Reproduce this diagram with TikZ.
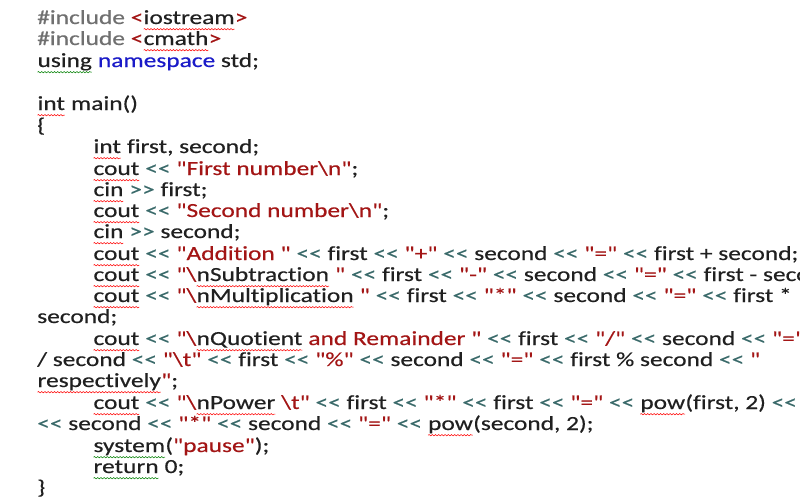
\documentclass[tikz,border=0pt]{standalone}
\usepackage{fontspec}
\newfontfamily\codefont{Carlito}[Ligatures=NoCommon,FakeStretch=1.27,FakeBold=0.4]
\usetikzlibrary{decorations.pathmorphing}
\definecolor{kwc}{HTML}{1A1AC8}
\definecolor{stc}{HTML}{A31515}
\definecolor{ppc}{HTML}{707070}
\definecolor{opc}{HTML}{3A6A6A}
\definecolor{txc}{HTML}{202020}
\newcommand\kw[1]{\textcolor{kwc}{#1}}
\newcommand\st[1]{\textcolor{stc}{#1}}
\newcommand\op[1]{\textcolor{opc}{#1}}
\newcommand\pp[1]{\textcolor{ppc}{#1}}
\newcommand\wv[2]{\tikz[baseline=(w.base)]{\node[inner sep=0pt,outer sep=0pt](w){\strut #2};\draw[#1,line width=0.4pt,decorate,decoration={snake,amplitude=0.5pt,segment length=2.4pt}]([yshift=1.2pt]w.south west)--([yshift=1.2pt]w.south east);}}
\newcommand\sr[1]{\wv{red}{#1}}
\newcommand\sg[1]{\wv{green!50!black}{#1}}
\newcommand\bs{\textbackslash}
\begin{document}
\begin{tikzpicture}[x=0.75pt,y=-0.75pt,every node/.style={anchor=base west,inner sep=0pt,font=\codefont\fontsize{15}{17}\selectfont,text=txc}]
\useasboundingbox (0,0) rectangle (800,500);
\fill[white] (0,0) rectangle (800,500);
\node (l1) at (37,24) {\pp{\#include} \st{<\sr{iostream}>}};
\node (l2) at (37,45) {\pp{\#include} \st{<\sr{cmath}>}};
\node (l3) at (37,67) {\kw{\sg{using}} \kw{namespace} std;};
\node (l4) at (37,110) {\kw{\sr{int}} main()};
\node (l5) at (37,132) {\{};
\node (l6) at (93,153) {\kw{\sr{int}} first, second;};
\node (l7) at (93,175) {\sr{cout} \op{<<} \st{"First number\bs n"};};
\node (l8) at (93,196) {\sr{cin} \op{>>} first;};
\node (l9) at (93,217) {\sr{cout} \op{<<} \st{"Second number\bs n"};};
\node (l10) at (93,238) {\sr{cin} \op{>>} second;};
\node (l11) at (93,260) {\sr{cout} \op{<<} \st{"Addition "} \op{<<} first \op{<<} \st{"+"} \op{<<} second \op{<<} \st{"="} \op{<<} first + second;};
\node (l12) at (93,281) {\sr{cout} \op{<<} \st{"\bs\sr{nSubtraction} "} \op{<<} first \op{<<} \st{"-"} \op{<<} second \op{<<} \st{"="} \op{<<} first - second;};
\node (l13) at (93,302) {\sr{cout} \op{<<} \st{"\bs\sr{nMultiplication} "} \op{<<} first \op{<<} \st{"*"} \op{<<} second \op{<<} \st{"="} \op{<<} first *};
\node (l14) at (37,323) {second;};
\node (l15) at (93,345) {\sr{cout} \op{<<} \st{"\bs\sr{nQuotient} and Remainder "} \op{<<} first \op{<<} \st{"/"} \op{<<} second \op{<<} \st{"="} \op{<<} first};
\node (l16) at (37,366) {/ second \op{<<} \st{"\bs t"} \op{<<} first \op{<<} \st{"\%"} \op{<<} second \op{<<} \st{"="} \op{<<} first \% second \op{<<} \st{"}};
\node (l17) at (37,387) {\st{\sr{respectively}"};};
\node (l18) at (93,409) {\sr{cout} \op{<<} \st{"\bs\sr{nPower} \bs t"} \op{<<} first \op{<<} \st{"*"} \op{<<} first \op{<<} \st{"="} \op{<<} \sr{pow}(first, 2) \op{<<} \st{"\bs t"}};
\node (l19) at (37,430) {\op{<<} second \op{<<} \st{"*"} \op{<<} second \op{<<} \st{"="} \op{<<} \sr{pow}(second, 2);};
\node (l20) at (93,452) {\sg{system}(\st{"pause"});};
\node (l21) at (93,473) {\kw{\sg{return}} 0;};
\node (l22) at (37,494) {\}};
\end{tikzpicture}
\end{document}
